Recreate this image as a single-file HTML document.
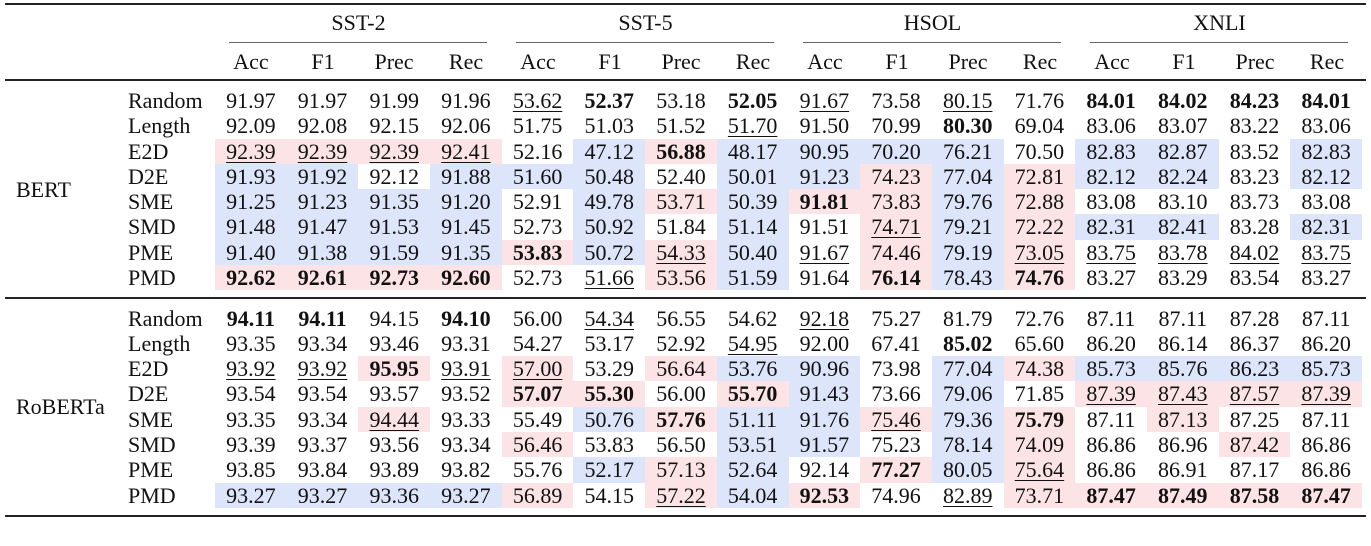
<!DOCTYPE html>
<html><head><meta charset="utf-8"><style>
body{margin:0;width:1371px;height:546px;background:#fff;position:relative;overflow:hidden;font-family:"Liberation Serif",serif;color:#111}
.rule{position:absolute;background:#222}
.h{position:absolute;font-size:22px;text-align:center;line-height:24px}
table{position:absolute;left:0;border-collapse:collapse;table-layout:fixed;width:1362px;font-size:22px}
td{padding:0;height:25.3px;line-height:25.3px;text-align:center;white-space:nowrap}
td.m{text-align:left;padding-left:8px}
.p{background:#fce3e5}.q{background:#dde5fb}
.b{font-weight:bold}.u{text-decoration:underline;text-underline-offset:3px;text-decoration-thickness:1px}
.lab{position:absolute;font-size:22px;left:16px}
</style></head><body>
<div class="rule" style="left:5px;width:1361px;top:3px;height:2px"></div>
<div class="h" style="left:215px;width:287px;top:11px">SST-2</div>
<div class="h" style="left:502px;width:287px;top:11px">SST-5</div>
<div class="h" style="left:789px;width:287px;top:11px">HSOL</div>
<div class="h" style="left:1076px;width:287px;top:11px">XNLI</div>
<div class="rule" style="left:229px;width:258px;top:42px;height:1px;background:#666"></div>
<div class="rule" style="left:516px;width:258px;top:42px;height:1px;background:#666"></div>
<div class="rule" style="left:803px;width:258px;top:42px;height:1px;background:#666"></div>
<div class="rule" style="left:1090px;width:258px;top:42px;height:1px;background:#666"></div>
<div class="h" style="left:215px;width:72px;top:50px">Acc</div><div class="h" style="left:287px;width:72px;top:50px">F1</div><div class="h" style="left:358px;width:72px;top:50px">Prec</div><div class="h" style="left:430px;width:72px;top:50px">Rec</div>
<div class="h" style="left:502px;width:72px;top:50px">Acc</div><div class="h" style="left:574px;width:72px;top:50px">F1</div><div class="h" style="left:645px;width:72px;top:50px">Prec</div><div class="h" style="left:717px;width:72px;top:50px">Rec</div>
<div class="h" style="left:789px;width:72px;top:50px">Acc</div><div class="h" style="left:861px;width:72px;top:50px">F1</div><div class="h" style="left:932px;width:72px;top:50px">Prec</div><div class="h" style="left:1004px;width:72px;top:50px">Rec</div>
<div class="h" style="left:1076px;width:72px;top:50px">Acc</div><div class="h" style="left:1148px;width:72px;top:50px">F1</div><div class="h" style="left:1219px;width:72px;top:50px">Prec</div><div class="h" style="left:1291px;width:72px;top:50px">Rec</div>
<div class="rule" style="left:5px;width:1361px;top:79px;height:1.5px"></div>
<div class="lab" style="top:177px">BERT</div>
<table style="top:88px"><colgroup><col style="width:120px"><col style="width:95px"><col span="16" style="width:71.69px"></colgroup>
<tr><td></td><td class="m">Random</td><td>91.97</td><td>91.97</td><td>91.99</td><td>91.96</td><td class="u">53.62</td><td class="b">52.37</td><td>53.18</td><td class="b">52.05</td><td class="u">91.67</td><td>73.58</td><td class="u">80.15</td><td>71.76</td><td class="b">84.01</td><td class="b">84.02</td><td class="b">84.23</td><td class="b">84.01</td></tr>
<tr><td></td><td class="m">Length</td><td>92.09</td><td>92.08</td><td>92.15</td><td>92.06</td><td>51.75</td><td>51.03</td><td>51.52</td><td class="u">51.70</td><td>91.50</td><td>70.99</td><td class="b">80.30</td><td>69.04</td><td>83.06</td><td>83.07</td><td>83.22</td><td>83.06</td></tr>
<tr><td></td><td class="m">E2D</td><td class="p"><span class="u">92.39</span></td><td class="p"><span class="u">92.39</span></td><td class="p"><span class="u">92.39</span></td><td class="p"><span class="u">92.41</span></td><td>52.16</td><td class="q">47.12</td><td class="p b">56.88</td><td class="q">48.17</td><td class="q">90.95</td><td class="q">70.20</td><td class="q">76.21</td><td>70.50</td><td class="q">82.83</td><td class="q">82.87</td><td>83.52</td><td class="q">82.83</td></tr>
<tr><td></td><td class="m">D2E</td><td class="q">91.93</td><td class="q">91.92</td><td>92.12</td><td class="q">91.88</td><td class="q">51.60</td><td class="q">50.48</td><td>52.40</td><td class="q">50.01</td><td class="q">91.23</td><td class="p">74.23</td><td class="q">77.04</td><td class="p">72.81</td><td class="q">82.12</td><td class="q">82.24</td><td>83.23</td><td class="q">82.12</td></tr>
<tr><td></td><td class="m">SME</td><td class="q">91.25</td><td class="q">91.23</td><td class="q">91.35</td><td class="q">91.20</td><td>52.91</td><td class="q">49.78</td><td class="p">53.71</td><td class="q">50.39</td><td class="p b">91.81</td><td class="p">73.83</td><td class="q">79.76</td><td class="p">72.88</td><td>83.08</td><td>83.10</td><td>83.73</td><td>83.08</td></tr>
<tr><td></td><td class="m">SMD</td><td class="q">91.48</td><td class="q">91.47</td><td class="q">91.53</td><td class="q">91.45</td><td>52.73</td><td class="q">50.92</td><td>51.84</td><td class="q">51.14</td><td>91.51</td><td class="p"><span class="u">74.71</span></td><td class="q">79.21</td><td class="p">72.22</td><td class="q">82.31</td><td class="q">82.41</td><td>83.28</td><td class="q">82.31</td></tr>
<tr><td></td><td class="m">PME</td><td class="q">91.40</td><td class="q">91.38</td><td class="q">91.59</td><td class="q">91.35</td><td class="p b">53.83</td><td class="q">50.72</td><td class="p"><span class="u">54.33</span></td><td class="q">50.40</td><td class="u">91.67</td><td class="p">74.46</td><td class="q">79.19</td><td class="p"><span class="u">73.05</span></td><td class="u">83.75</td><td class="u">83.78</td><td class="u">84.02</td><td class="u">83.75</td></tr>
<tr><td></td><td class="m">PMD</td><td class="p b">92.62</td><td class="p b">92.61</td><td class="p b">92.73</td><td class="p b">92.60</td><td>52.73</td><td class="u">51.66</td><td class="p">53.56</td><td class="q">51.59</td><td>91.64</td><td class="p b">76.14</td><td class="q">78.43</td><td class="p b">74.76</td><td>83.27</td><td>83.29</td><td>83.54</td><td>83.27</td></tr>
</table>
<div class="rule" style="left:5px;width:1361px;top:297px;height:1.5px"></div>
<div class="lab" style="top:394px">RoBERTa</div>
<table style="top:305.5px"><colgroup><col style="width:120px"><col style="width:95px"><col span="16" style="width:71.69px"></colgroup>
<tr><td></td><td class="m">Random</td><td class="b">94.11</td><td class="b">94.11</td><td>94.15</td><td class="b">94.10</td><td>56.00</td><td class="u">54.34</td><td>56.55</td><td>54.62</td><td class="u">92.18</td><td>75.27</td><td>81.79</td><td>72.76</td><td>87.11</td><td>87.11</td><td>87.28</td><td>87.11</td></tr>
<tr><td></td><td class="m">Length</td><td>93.35</td><td>93.34</td><td>93.46</td><td>93.31</td><td>54.27</td><td>53.17</td><td>52.92</td><td class="u">54.95</td><td>92.00</td><td>67.41</td><td class="b">85.02</td><td>65.60</td><td>86.20</td><td>86.14</td><td>86.37</td><td>86.20</td></tr>
<tr><td></td><td class="m">E2D</td><td class="u">93.92</td><td class="u">93.92</td><td class="p b">95.95</td><td class="u">93.91</td><td class="p"><span class="u">57.00</span></td><td>53.29</td><td class="p">56.64</td><td class="q">53.76</td><td class="q">90.96</td><td>73.98</td><td class="q">77.04</td><td class="p">74.38</td><td class="q">85.73</td><td class="q">85.76</td><td class="q">86.23</td><td class="q">85.73</td></tr>
<tr><td></td><td class="m">D2E</td><td>93.54</td><td>93.54</td><td>93.57</td><td>93.52</td><td class="p b">57.07</td><td class="p b">55.30</td><td>56.00</td><td class="p b">55.70</td><td class="q">91.43</td><td>73.66</td><td class="q">79.06</td><td>71.85</td><td class="p"><span class="u">87.39</span></td><td class="p"><span class="u">87.43</span></td><td class="p"><span class="u">87.57</span></td><td class="p"><span class="u">87.39</span></td></tr>
<tr><td></td><td class="m">SME</td><td>93.35</td><td>93.34</td><td class="p"><span class="u">94.44</span></td><td>93.33</td><td>55.49</td><td class="q">50.76</td><td class="p b">57.76</td><td class="q">51.11</td><td class="q">91.76</td><td class="p"><span class="u">75.46</span></td><td class="q">79.36</td><td class="p b">75.79</td><td>87.11</td><td class="p">87.13</td><td>87.25</td><td>87.11</td></tr>
<tr><td></td><td class="m">SMD</td><td>93.39</td><td>93.37</td><td>93.56</td><td>93.34</td><td class="p">56.46</td><td>53.83</td><td>56.50</td><td class="q">53.51</td><td class="q">91.57</td><td>75.23</td><td class="q">78.14</td><td class="p">74.09</td><td>86.86</td><td>86.96</td><td class="p">87.42</td><td>86.86</td></tr>
<tr><td></td><td class="m">PME</td><td>93.85</td><td>93.84</td><td>93.89</td><td>93.82</td><td>55.76</td><td class="q">52.17</td><td class="p">57.13</td><td class="q">52.64</td><td>92.14</td><td class="p b">77.27</td><td class="q">80.05</td><td class="p"><span class="u">75.64</span></td><td>86.86</td><td>86.91</td><td>87.17</td><td>86.86</td></tr>
<tr><td></td><td class="m">PMD</td><td class="q">93.27</td><td class="q">93.27</td><td class="q">93.36</td><td class="q">93.27</td><td class="p">56.89</td><td>54.15</td><td class="p"><span class="u">57.22</span></td><td class="q">54.04</td><td class="p b">92.53</td><td>74.96</td><td class="u">82.89</td><td class="p">73.71</td><td class="p b">87.47</td><td class="p b">87.49</td><td class="p b">87.58</td><td class="p b">87.47</td></tr>
</table>
<div class="rule" style="left:5px;width:1361px;top:515px;height:2px"></div>
</body></html>
